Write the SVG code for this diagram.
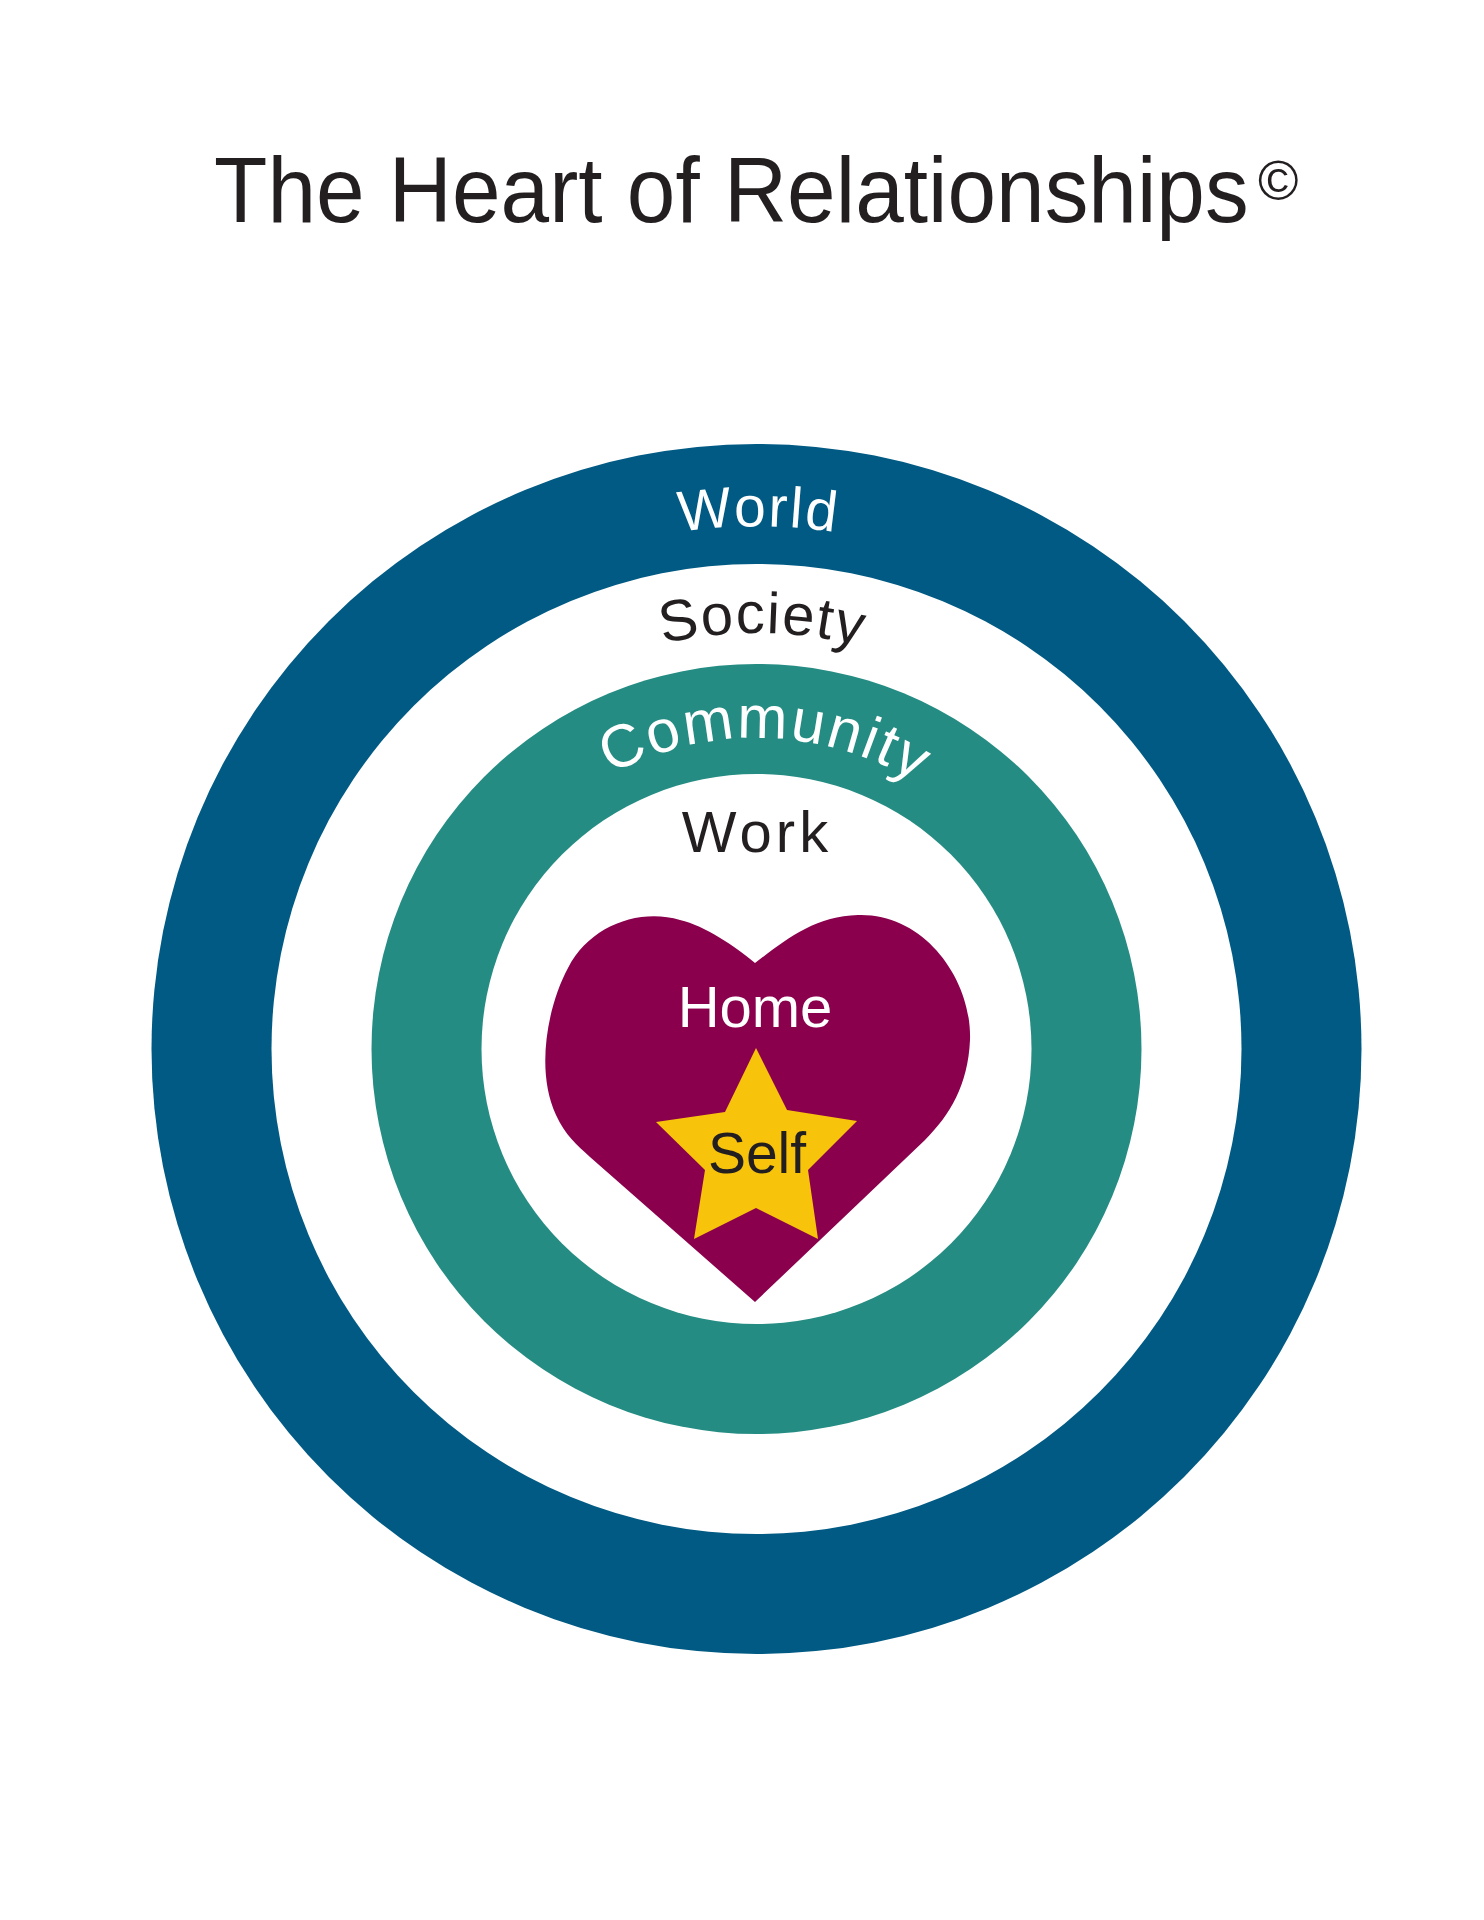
<svg xmlns="http://www.w3.org/2000/svg" xmlns:xlink="http://www.w3.org/1999/xlink" width="1484" height="1920" viewBox="0 0 1484 1920">
<style>
.lbl{font-family:"Liberation Sans",Arial,sans-serif;}
.w{fill:#ffffff;}
.d{fill:#231f20;}
</style>
<defs>
<path id="arcWorld" d="M 233.5 1049 A 523 523 0 0 1 1279.5 1049"/>
<path id="arcSociety" d="M 340.5 1049 A 416 416 0 0 1 1172.5 1049"/>
<path id="arcCommunity" d="M 445.5 1049 A 311 311 0 0 1 1067.5 1049"/>
</defs>
<rect width="1484" height="1920" fill="#ffffff"/>
<g id="title">
<text class="lbl d" transform="translate(214 222) scale(0.95 1)" font-size="92">The Heart of Relationships</text>
<text class="lbl d" x="1258" y="200" font-size="55">©</text>
</g>
<g id="world">
<circle cx="756.5" cy="1049" r="605" fill="#005a83"/>
<text class="lbl w" font-size="57" letter-spacing="2" text-anchor="middle"><textPath xlink:href="#arcWorld" href="#arcWorld" startOffset="823">World</textPath></text>
</g>
<g id="society">
<circle cx="756.5" cy="1049" r="485" fill="#ffffff"/>
<text class="lbl d" font-size="58" letter-spacing="1.5" text-anchor="middle"><textPath xlink:href="#arcSociety" href="#arcSociety" startOffset="659">Society</textPath></text>
</g>
<g id="community">
<circle cx="756.5" cy="1049" r="385" fill="#248c82"/>
<text class="lbl w" font-size="60" letter-spacing="2" text-anchor="middle"><textPath xlink:href="#arcCommunity" href="#arcCommunity" startOffset="497">Community</textPath></text>
</g>
<g id="work">
<circle cx="756.5" cy="1049" r="275" fill="#ffffff"/>
<text class="lbl d" x="757" y="852" font-size="58" letter-spacing="4" text-anchor="middle">Work</text>
</g>
<g id="home">
<path d="M 755 963 C 735 946, 705 926, 680 920 C 640 908, 590 925, 568 968 C 548 1005, 535 1070, 556 1115 C 565 1135, 577 1145, 590 1157 L 755 1302 L 925 1140 C 950 1115, 968 1085, 970 1040 C 972 980, 925 913, 858 915 C 815 916, 785 940, 755 963 Z" fill="#8a004d"/>
<text class="lbl w" x="755" y="1027" font-size="58" text-anchor="middle">Home</text>
</g>
<g id="self">
<polygon points="756,1048 787,1110 857,1121 808,1170 818,1239 756,1208 694,1239 705,1170 656,1122 725,1112" fill="#f8c30b"/>
<text class="lbl d" x="757" y="1173" font-size="57" text-anchor="middle">Self</text>
</g>
</svg>
